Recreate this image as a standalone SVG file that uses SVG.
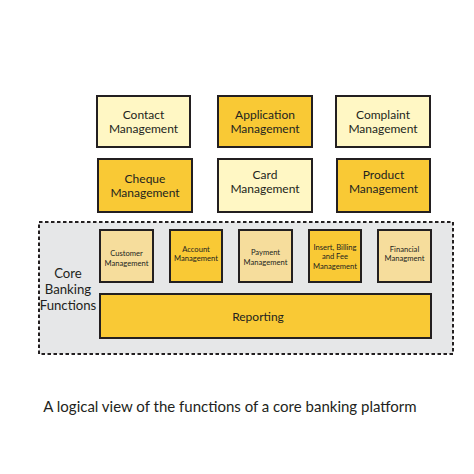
<svg xmlns="http://www.w3.org/2000/svg" width="474" height="474" viewBox="0 0 474 474">
<style>
.bx{stroke:#231f20;stroke-width:2}
.lt{fill:#fff7c4}
.gd{fill:#f9c935}
.tn{fill:#f6dd9c}
text{font-family:Lato,"Liberation Sans",sans-serif;fill:#231f20;text-anchor:middle}
.t12{font-size:12px}
.t7{font-size:7.6px}
.t14{font-size:13.2px}
</style>
<rect width="474" height="474" fill="#ffffff"/>
<g id="core-banking">
<rect x="39" y="222" width="414" height="132" fill="#e6e7e8" stroke="#231f20" stroke-width="2" stroke-dasharray="3.5,2.5"/>
<text class="t14" x="68" y="278">Core</text>
<text class="t14" x="68" y="294">Banking</text>
<text class="t14" x="68" y="310">Functions</text>
</g>
<g id="contact"><rect class="bx lt" x="97" y="96" width="93" height="51"/><text class="t12" x="143.5" y="119">Contact</text><text class="t12" x="143.5" y="133">Management</text></g>
<g id="application"><rect class="bx gd" x="218" y="96" width="94" height="51"/><text class="t12" x="265" y="119">Application</text><text class="t12" x="265" y="133">Management</text></g>
<g id="complaint"><rect class="bx lt" x="336" y="96" width="94" height="51"/><text class="t12" x="383" y="119">Complaint</text><text class="t12" x="383" y="133">Management</text></g>
<g id="cheque"><rect class="bx gd" x="98" y="159" width="94" height="53"/><text class="t12" x="145" y="183">Cheque</text><text class="t12" x="145" y="197">Management</text></g>
<g id="card"><rect class="bx lt" x="218" y="159" width="94" height="53"/><text class="t12" x="265" y="179">Card</text><text class="t12" x="265" y="193">Management</text></g>
<g id="product"><rect class="bx gd" x="337" y="159" width="93" height="53"/><text class="t12" x="383.5" y="179">Product</text><text class="t12" x="383.5" y="193">Management</text></g>
<g id="customer"><rect class="bx tn" x="100" y="230" width="53" height="52"/><text class="t7" x="126.5" y="256">Customer</text><text class="t7" x="126.5" y="266">Management</text></g>
<g id="account"><rect class="bx gd" x="170" y="230" width="52" height="52"/><text class="t7" x="196" y="252">Account</text><text class="t7" x="196" y="261">Management</text></g>
<g id="payment"><rect class="bx tn" x="239" y="230" width="53" height="52"/><text class="t7" x="265.5" y="255">Payment</text><text class="t7" x="265.5" y="265">Management</text></g>
<g id="billing"><rect class="bx gd" x="309" y="230" width="52" height="52"/><text class="t7" x="335" y="250">Insert, Billing</text><text class="t7" x="335" y="259">and Fee</text><text class="t7" x="335" y="269">Management</text></g>
<g id="financial"><rect class="bx tn" x="378" y="230" width="53" height="52"/><text class="t7" x="404.5" y="252">Financial</text><text class="t7" x="404.5" y="261">Managment</text></g>
<g id="reporting"><rect class="bx gd" x="100" y="294" width="331" height="44"/><text class="t12" x="258" y="321">Reporting</text></g>
<g id="connectors"></g>
<text x="230" y="412" style="font-size:15px;text-anchor:middle">A logical view of the functions of a core banking platform</text>
</svg>
